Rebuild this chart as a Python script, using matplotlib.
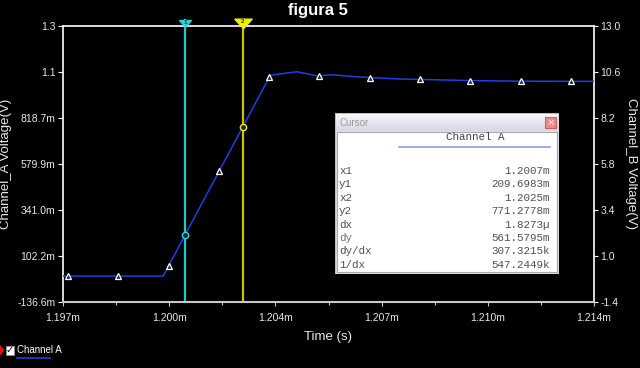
import numpy as np
import matplotlib
matplotlib.use("Agg")
import matplotlib.pyplot as plt
from matplotlib.patches import Rectangle, Polygon
from matplotlib.lines import Line2D

plt.rcParams['font.family'] = ['Liberation Sans', 'DejaVu Sans']

# ---------------- data ----------------
time_ms = [1.19686, 1.19702, 1.19861, 1.20003, 1.20020, 1.20180, 1.20339, 1.20343,
           1.20426, 1.20493, 1.20498, 1.20537, 1.20611, 1.20658, 1.20753, 1.20817,
           1.20949, 1.20976, 1.21070, 1.21135, 1.21295, 1.21367]
volt_A = [-0.002, -0.002, -0.002, -0.002, 0.050, 0.542, 1.030, 1.041,
          1.059, 1.037, 1.038, 1.043, 1.033, 1.029, 1.021, 1.019,
          1.014, 1.013, 1.011, 1.010, 1.009, 1.009]
marker_idx = [1, 2, 4, 5, 6, 10, 13, 15, 17, 19, 20]

cursor_x = [1.20072, 1.202547]
cursor_y = [0.2097, 0.7713]
cursor_names = ["1", "2"]

x_limits = (1.196859, 1.213673)
x_ticklabels = ["1.197m", "1.200m", "1.204m", "1.207m", "1.210m", "1.214m"]
yA_limits = (-0.1366, 1.2964)
yA_ticklabels = ["-136.6m", "102.2m", "341.0m", "579.9m", "818.7m", "1.1", "1.3"]
yB_limits = (-1.4, 13.0)
yB_ticklabels = ["-1.4", "1.0", "3.4", "5.8", "8.2", "10.6", "13.0"]

cursor_rows = ["x1", "y1", "x2", "y2", "dx", "dy", "dy/dx", "1/dx"]
cursor_vals = ["1.2007m", "209.6983m", "1.2025m", "771.2778m", "1.8273\u00b5",
               "561.5795m", "307.3215k", "547.2449k"]

# ---------------- figure ----------------
W, H = 640, 368
fig = plt.figure(figsize=(W / 100, H / 100), dpi=100, facecolor='black')

def fx(x):
    return x / W

def fy(y):
    return 1 - y / H

L, R, T, B = 63, 594, 26, 302
ax = fig.add_axes([fx(L), fy(B), fx(R) - fx(L), fy(T) - fy(B)], facecolor='black')

line_blue = '#1a3fe6'
ax.plot(time_ms, volt_A, color=line_blue, lw=1.1, marker='^', markevery=marker_idx,
        ms=4.8, mfc='#202040', mec='white', mew=0.9, zorder=3)

ax.set_xlim(*x_limits)
ax.set_ylim(*yA_limits)
xt = np.linspace(x_limits[0], x_limits[1], len(x_ticklabels))
ax.set_xticks(xt)
ax.set_xticklabels(x_ticklabels)
ax.set_xticks((xt[:-1] + xt[1:]) / 2, minor=True)
yt = np.linspace(yA_limits[0], yA_limits[1], len(yA_ticklabels))
ax.set_yticks(yt)
ax.set_yticklabels(yA_ticklabels)

for s in ['top', 'left', 'right']:
    ax.spines[s].set_color('white')
    ax.spines[s].set_linewidth(1.2)
ax.spines['bottom'].set_color('#c8c8c8')
ax.spines['bottom'].set_linewidth(1.5)

ax.tick_params(axis='y', colors='white', labelsize=7.5, length=3.5, width=0.8, pad=2,
               labelcolor='#e8e8e8')
ax.tick_params(axis='x', which='major', colors='#c8c8c8', labelsize=7.5, length=3, width=0.8,
               pad=5, labelcolor='#e8e8e8')
ax.tick_params(axis='x', which='minor', colors='#c8c8c8', length=2.5, width=0.8)

ax.set_ylabel("Channel_A Voltage(V)", color='#e8e8e8', fontsize=9.5, labelpad=4)
ax.set_xlabel("Time (s)", color='#e8e8e8', fontsize=9.5, labelpad=6)

axB = ax.twinx()
axB.set_ylim(*yB_limits)
axB.set_yticks(np.linspace(yB_limits[0], yB_limits[1], len(yB_ticklabels)))
axB.set_yticklabels(yB_ticklabels)
axB.tick_params(axis='y', colors='white', labelsize=7.5, length=3, width=0.8, pad=1.5,
                labelcolor='#e8e8e8')
for s in axB.spines.values():
    s.set_visible(False)
axB.set_ylabel("Channel_B Voltage(V)", color='#e8e8e8', fontsize=9.5, rotation=270,
               labelpad=12)

# cursors
cur_line = ['#1ec8c8', '#c8c400']
cur_flag = ['#20d8e0', '#f0f000']
flag_ms = [8.5, 12.5]
flag_off = [3.0, 3.5]
flag_shape = [(-1, 0.5), (1, 0.5), (0, -0.6), (-1, 0.5)]
xtr = ax.get_xaxis_transform()
for i in range(2):
    ax.axvline(cursor_x[i], color=cur_line[i], lw=1.6, zorder=2)
    ax.plot([cursor_x[i], cursor_x[i]], [1.0, 1.02], color=cur_line[i], lw=1.6,
            transform=xtr, clip_on=False, zorder=2)
    ax.plot(cursor_x[i], 1.0 + flag_off[i] / 276, marker=flag_shape, ms=flag_ms[i],
            color=cur_flag[i], mec=cur_flag[i], transform=xtr, clip_on=False, zorder=5)
    ax.text(cursor_x[i], 1.0 + (flag_off[i] + 1) / 276, cursor_names[i], fontsize=4.5,
            color='#303000', ha='center', va='center', transform=xtr,
            fontweight='bold', zorder=6)
    ax.plot(cursor_x[i], cursor_y[i], marker='o', ms=4.5, mfc='#202020',
            mec=cur_flag[i], mew=1.0, zorder=4)

fig.text(0.497, fy(11), "figura 5", color='white', fontsize=12, fontweight='bold',
         ha='center', va='center')

# ---------------- cursor window ----------------
bx0, by0, bw, bh = 335, 113, 224, 161
cax = fig.add_axes([fx(bx0), fy(by0 + bh), bw / W, bh / H])
cax.set_xlim(0, bw)
cax.set_ylim(bh, 0)
cax.axis('off')
cax.add_patch(Rectangle((0, 0), bw, bh, facecolor='#dfe3ee', edgecolor='#b8bccc', lw=1))
grad = np.linspace(0, 1, 20).reshape(-1, 1)
cax.imshow(grad, cmap=matplotlib.colors.LinearSegmentedColormap.from_list(
    'g', ['#f6f6fa', '#d8d8e4']), extent=(1, bw - 1, 18, 1), aspect='auto', zorder=1)
cax.text(4, 10, "Cursor", fontsize=7, color='#9a9a9a', va='center', ha='left', zorder=2)
cax.add_patch(Rectangle((210, 3.5), 11, 11, facecolor='#ee8a8a', edgecolor='#d06060',
                        lw=0.8, zorder=2))
cax.text(215.5, 9.3, "\u00d7", fontsize=8, color='white', ha='center', va='center', zorder=3)
cax.add_patch(Rectangle((2, 18.5), bw - 4, bh - 20.5, facecolor='white', edgecolor='#a8a8a8',
                        lw=0.8, zorder=2))
mono = 'Liberation Mono'
cax.text(140, 24.5, "Channel A", family=mono, fontsize=7.8, color='#404040',
         ha='center', va='center', zorder=3)
cax.plot([64, 215], [34, 34], color='#9aa6ee', lw=1.3, zorder=3)
for i, (lab, val) in enumerate(zip(cursor_rows, cursor_vals)):
    yy = 58 + 13.4 * i
    c = '#707070' if lab in ('dy',) else '#505050'
    cax.text(4, yy, lab, family=mono, fontsize=7.8, color=c, ha='left', va='center', zorder=3)
    cax.text(215, yy, val, family=mono, fontsize=7.8, color='#505050', ha='right',
             va='center', zorder=3)

# ---------------- legend strip ----------------
fig.patches.append(Polygon([(fx(0), fy(345)), (fx(4.5), fy(350)), (fx(0), fy(356))],
                           closed=True, facecolor='#e01010', edgecolor='none',
                           transform=fig.transFigure))
fig.patches.append(Rectangle((fx(6), fy(355)), 7.5 / W, 9 / H, facecolor='white',
                             edgecolor='#909090', lw=0.6, transform=fig.transFigure))
fig.text(fx(9.8), fy(350.5), "\u2713", fontsize=7, color='black', ha='center', va='center',
         family='DejaVu Sans')
fig.text(fx(17), fy(350), "Channel A", fontsize=7, color='white', ha='left', va='center')
fig.lines.append(Line2D([fx(17), fx(50)], [fy(358), fy(358)], color=line_blue, lw=1.2,
                        transform=fig.transFigure))

fig.savefig("out.png", dpi=100, facecolor='black')
